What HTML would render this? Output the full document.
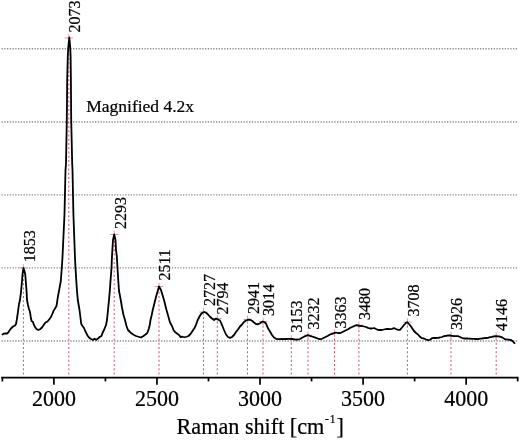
<!DOCTYPE html>
<html><head><meta charset="utf-8"><style>
html,body{margin:0;padding:0;background:#fff;}
body{width:520px;height:440px;overflow:hidden;}
svg{display:block;font-family:"Liberation Serif","Times New Roman",serif;}
text{fill:#000;stroke:#000;stroke-width:0.22px;}
</style></head><body>
<svg width="520" height="440" viewBox="0 0 520 440">
<line x1="1.5" y1="48.75" x2="517.5" y2="48.75" stroke="#8c8c8c" stroke-width="1.3" stroke-dasharray="1.3 1.45"/>
<line x1="1.5" y1="122.0" x2="517.5" y2="122.0" stroke="#8c8c8c" stroke-width="1.3" stroke-dasharray="1.3 1.45"/>
<line x1="1.5" y1="194.9" x2="517.5" y2="194.9" stroke="#8c8c8c" stroke-width="1.3" stroke-dasharray="1.3 1.45"/>
<line x1="1.5" y1="267.9" x2="517.5" y2="267.9" stroke="#8c8c8c" stroke-width="1.3" stroke-dasharray="1.3 1.45"/>
<line x1="1.5" y1="341.0" x2="517.5" y2="341.0" stroke="#8c8c8c" stroke-width="1.3" stroke-dasharray="1.3 1.45"/>
<line x1="23.4" y1="374.6" x2="23.4" y2="268.0" stroke="#d25a6c" stroke-width="1.05" stroke-dasharray="2.1 2.15"/>
<line x1="68.8" y1="374.6" x2="68.8" y2="38.0" stroke="#d25a6c" stroke-width="1.05" stroke-dasharray="2.1 2.15"/>
<line x1="114.2" y1="374.6" x2="114.2" y2="234.5" stroke="#d25a6c" stroke-width="1.05" stroke-dasharray="2.1 2.15"/>
<line x1="159.0" y1="374.6" x2="159.0" y2="286.5" stroke="#d25a6c" stroke-width="1.05" stroke-dasharray="2.1 2.15"/>
<line x1="203.5" y1="374.6" x2="203.5" y2="312.0" stroke="#d25a6c" stroke-width="1.05" stroke-dasharray="2.1 2.15"/>
<line x1="217.3" y1="374.6" x2="217.3" y2="318.5" stroke="#d25a6c" stroke-width="1.05" stroke-dasharray="2.1 2.15"/>
<line x1="247.5" y1="374.6" x2="247.5" y2="319.6" stroke="#d25a6c" stroke-width="1.05" stroke-dasharray="2.1 2.15"/>
<line x1="263.0" y1="374.6" x2="263.0" y2="321.5" stroke="#d25a6c" stroke-width="1.05" stroke-dasharray="2.1 2.15"/>
<line x1="291.3" y1="374.6" x2="291.3" y2="339.0" stroke="#d25a6c" stroke-width="1.05" stroke-dasharray="2.1 2.15"/>
<line x1="308.0" y1="374.6" x2="308.0" y2="335.2" stroke="#d25a6c" stroke-width="1.05" stroke-dasharray="2.1 2.15"/>
<line x1="334.5" y1="374.6" x2="334.5" y2="333.2" stroke="#d25a6c" stroke-width="1.05" stroke-dasharray="2.1 2.15"/>
<line x1="358.9" y1="374.6" x2="358.9" y2="325.3" stroke="#d25a6c" stroke-width="1.05" stroke-dasharray="2.1 2.15"/>
<line x1="407.4" y1="374.6" x2="407.4" y2="322.2" stroke="#d25a6c" stroke-width="1.05" stroke-dasharray="2.1 2.15"/>
<line x1="451.0" y1="374.6" x2="451.0" y2="335.5" stroke="#d25a6c" stroke-width="1.05" stroke-dasharray="2.1 2.15"/>
<line x1="496.2" y1="374.6" x2="496.2" y2="336.2" stroke="#d25a6c" stroke-width="1.05" stroke-dasharray="2.1 2.15"/>
<path d="M19.20 268.0H27.60M23.4 264.20V271.80" stroke="#e597a8" stroke-width="1"/>
<path d="M64.60 38.0H73.00M68.8 34.20V41.80" stroke="#e597a8" stroke-width="1"/>
<path d="M110.00 234.5H118.40M114.2 230.70V238.30" stroke="#e597a8" stroke-width="1"/>
<path d="M154.80 286.5H163.20M159.0 282.70V290.30" stroke="#e597a8" stroke-width="1"/>
<path d="M199.30 312.0H207.70M203.5 308.20V315.80" stroke="#e597a8" stroke-width="1"/>
<path d="M213.10 318.5H221.50M217.3 314.70V322.30" stroke="#e597a8" stroke-width="1"/>
<path d="M243.30 319.6H251.70M247.5 315.80V323.40" stroke="#e597a8" stroke-width="1"/>
<path d="M258.80 321.5H267.20M263.0 317.70V325.30" stroke="#e597a8" stroke-width="1"/>
<path d="M287.10 339.0H295.50M291.3 335.20V342.80" stroke="#e597a8" stroke-width="1"/>
<path d="M303.80 335.2H312.20M308.0 331.40V339.00" stroke="#e597a8" stroke-width="1"/>
<path d="M330.30 333.2H338.70M334.5 329.40V337.00" stroke="#e597a8" stroke-width="1"/>
<path d="M354.70 325.3H363.10M358.9 321.50V329.10" stroke="#e597a8" stroke-width="1"/>
<path d="M403.20 322.2H411.60M407.4 318.40V326.00" stroke="#e597a8" stroke-width="1"/>
<path d="M446.80 335.5H455.20M451.0 331.70V339.30" stroke="#e597a8" stroke-width="1"/>
<path d="M492.00 336.2H500.40M496.2 332.40V340.00" stroke="#e597a8" stroke-width="1"/>
<polyline fill="none" stroke="#000" stroke-width="1.8" stroke-linejoin="round" stroke-linecap="round" points="2.5,334.5 4,333.6 5.5,333.4 7,333.5 8.25,332.5 9.5,330.5 11,328.5 12.5,327 14,326 15,325.5 16,324 16.75,320 17.5,315 18.2,310 19,304 20,300 21,292 21.75,284 22.5,274.5 23.4,268 24.3,270.5 25.25,274.5 26,284 26.6,292 27,300 28,305 29,309 30,312 30.75,317 31.5,321 33,322 33.75,324.5 35,327 36.5,329 38.25,330 40,329.25 42,327.5 44,324.5 45.5,322.5 47.5,321.5 49.5,319 51,317 52.5,313.5 53.5,311 55,308.5 56.5,306 57.25,301 58,296 59,291 60.8,281 61.8,268 62.5,257 64.5,214 65.5,170 66,164 66.8,120 67.2,80 67.8,56 68.3,47 69.3,37.5 70.2,47 70.6,56 70.9,80 71.2,120 72.2,164 72.5,170 73.4,214 75,258 75.5,268 76.3,281 77,291 77.8,300 79.5,310 80.75,320 81.25,324 82.5,326 84,328 85,330.5 86.25,333 87.5,335.5 89,337.5 90.5,338.75 91.75,339.25 93,340 94.5,338.75 96.25,339.75 98,338.5 100,336.75 101.5,336 102.5,333 104,330 106,325 107,320 107.5,315 108.25,307.5 109,300 109.8,291 110.5,281 111.5,268 112,256 113,240 114.2,234.5 115.5,240 116,250 116.8,256 117.5,268 118.3,281 119,291 120,296 120.75,300 122,307.5 123.5,315 125,320 125.75,323 126.5,326 128,330 131,333 134,335 136,336 138.5,336.75 141,337.5 143.5,336 145.5,334.5 147.25,333 148.75,329 149.75,325 150.5,320 151.5,316 152.75,310 154,305 155.25,300 156.5,295 158,290 159,286.5 161,290 164,300 166.5,310 168.5,317 170,322.5 172,326 173.5,330 175,332 177,333.5 179,335 180.5,337 182.5,336.75 184.5,337.25 186.5,336.75 188.5,336 190.5,334 192.5,331 194.5,328 195.75,325.5 197.5,320.5 199.25,317 201,314 202.75,312.5 204.25,312 206,312.75 208,314.5 210,316.75 212,318.5 214,320 216,318.5 218,319.5 220,320.5 222,325 224,330 226,334.5 228,337 230,337.8 232,337 234,335 236,332 238,329.5 240,326.5 242,324.5 244,322 246,320.5 248,319.75 250,319.75 252,320.75 254,322.5 256,324 258,324.25 260,323.25 262,321.75 263,321.5 264.5,322.25 266,323.5 268,328.3 270,331.5 272,335 274,337.5 276,338.8 278,339.2 280,339.2 282,339 284,339.2 286,339 288,338.8 290,338.8 292,339 294,339.3 296,339.7 298,339.5 300,339 302,337.8 304,336.8 306,335.8 308,335.2 310,335.8 312,336.5 314,337.2 316,337.8 318,338.6 320,339.2 322,338.8 324,337.8 326,336.8 328,335.8 330,334.5 332,333.8 334,333.2 336,332.5 338,333 340,333.2 342,332.2 344,331.2 346,330.2 348,329.2 350,328 352,327 354,326.2 356,325.2 358,325.5 360,325.8 362,326 364,326.5 366,327 368,327.8 370,328.5 372,328.5 374,328 376,329 378,329.8 380,330 382,330 384,329.5 386,329 388,329 390,329.2 392,328.8 394,328.2 396,329 398,329.8 400,329.8 402,327.5 404,325 406,322.8 407.3,322.2 409,324 411,326.5 413,329.5 414,331 416,333 418,334.5 420,336.8 422,338.2 424,338.5 426,339.5 428,340.2 430,339.8 432,338.2 434,338 436,338 438,337.8 440,337.5 442,337 444,336.2 446,335.8 448,335.5 450,335.5 452,335.8 454,336.2 456,336.2 458,336.2 460,337 462,337.8 464,338.5 466,338.3 468,338.5 470,338.6 472,338.8 474,338.9 476,339 478,339.1 480,338.7 482,338.5 484,338.2 486,338 488,337.8 490,337.2 492,336.8 494,336.3 496,336.2 498,336.4 500,336.6 502,337.3 503.5,338.2 505.5,339.4 508,339.7 511,340 513,341.5 514.5,343.2"/>
<text transform="translate(34.8 262.3) rotate(-90)" font-size="16">1853</text>
<text transform="translate(80.0 32.6) rotate(-90)" font-size="16">2073</text>
<text transform="translate(125.8 229.1) rotate(-90)" font-size="16">2293</text>
<text transform="translate(170.0 280.6) rotate(-90)" font-size="16">2511</text>
<text transform="translate(214.5 306.1) rotate(-90)" font-size="16">2727</text>
<text transform="translate(228.3 314.6) rotate(-90)" font-size="16">2794</text>
<text transform="translate(258.8 314.1) rotate(-90)" font-size="16">2941</text>
<text transform="translate(273.8 316.1) rotate(-90)" font-size="16">3014</text>
<text transform="translate(302.2 332.6) rotate(-90)" font-size="16">3153</text>
<text transform="translate(318.5 329.6) rotate(-90)" font-size="16">3232</text>
<text transform="translate(345.5 328.6) rotate(-90)" font-size="16">3363</text>
<text transform="translate(370.0 320.1) rotate(-90)" font-size="16">3480</text>
<text transform="translate(418.5 316.6) rotate(-90)" font-size="16">3708</text>
<text transform="translate(462.0 330.1) rotate(-90)" font-size="16">3926</text>
<text transform="translate(507.0 331.1) rotate(-90)" font-size="16">4146</text>
<line x1="1.2" y1="377.6" x2="518.4" y2="377.6" stroke="#000" stroke-width="1.6"/>
<line x1="2.37" y1="377.6" x2="2.37" y2="381.4" stroke="#000" stroke-width="1.7"/>
<line x1="53.90" y1="377.6" x2="53.90" y2="384.8" stroke="#000" stroke-width="1.7"/>
<text transform="translate(53.90 405.8) scale(1 1.07)" font-size="22" text-anchor="middle">2000</text>
<line x1="105.43" y1="377.6" x2="105.43" y2="381.4" stroke="#000" stroke-width="1.7"/>
<line x1="156.96" y1="377.6" x2="156.96" y2="384.8" stroke="#000" stroke-width="1.7"/>
<text transform="translate(156.96 405.8) scale(1 1.07)" font-size="22" text-anchor="middle">2500</text>
<line x1="208.49" y1="377.6" x2="208.49" y2="381.4" stroke="#000" stroke-width="1.7"/>
<line x1="260.02" y1="377.6" x2="260.02" y2="384.8" stroke="#000" stroke-width="1.7"/>
<text transform="translate(260.02 405.8) scale(1 1.07)" font-size="22" text-anchor="middle">3000</text>
<line x1="311.56" y1="377.6" x2="311.56" y2="381.4" stroke="#000" stroke-width="1.7"/>
<line x1="363.09" y1="377.6" x2="363.09" y2="384.8" stroke="#000" stroke-width="1.7"/>
<text transform="translate(363.09 405.8) scale(1 1.07)" font-size="22" text-anchor="middle">3500</text>
<line x1="414.62" y1="377.6" x2="414.62" y2="381.4" stroke="#000" stroke-width="1.7"/>
<line x1="466.15" y1="377.6" x2="466.15" y2="384.8" stroke="#000" stroke-width="1.7"/>
<text transform="translate(466.15 405.8) scale(1 1.07)" font-size="22" text-anchor="middle">4000</text>
<line x1="517.68" y1="377.6" x2="517.68" y2="381.4" stroke="#000" stroke-width="1.7"/>
<text transform="translate(86.2 111.8)" font-size="17.5">Magnified 4.2x</text>
<text transform="translate(176.5 433.6) scale(1 1.06)" font-size="22.2">Raman shift [cm</text>
<text transform="translate(324.9 422.6) scale(1 1.06)" font-size="11.5">-<tspan dx="0.9">1</tspan></text>
<text transform="translate(336.5 433.6) scale(1 1.06)" font-size="22.2">]</text>
</svg>
</body></html>
